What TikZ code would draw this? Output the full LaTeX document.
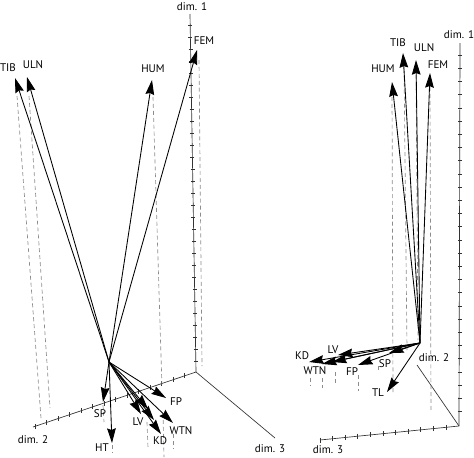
\documentclass[tikz,border=0pt]{standalone}
\usepackage{fontspec}
\setmainfont{PT Sans}
\usetikzlibrary{arrows.meta,calc}

\tikzset{
  axisline/.style={draw=black!80, line width=0.5pt},
  tickmark/.style={draw=black!80, line width=0.45pt},
  loading/.style={draw=black, line width=0.65pt, -{Stealth[length=11pt,width=6.5pt,inset=1.2pt]}},
  dropline/.style={draw=black!45, line width=0.5pt, dash pattern=on 3pt off 2.2pt},
  varlabel/.style={font=\fontsize{8.3}{10}\selectfont, inner sep=0pt},
}

\begin{document}
\begin{tikzpicture}[x=0.75pt,y=-0.75pt]
  \useasboundingbox (0,0) rectangle (474,457);

  % ---------- left plot ----------
  % Axes
  \coordinate (La1) at (190,14);
  \coordinate (Lo) at (196,372);
  \coordinate (La2) at (33,427);
  \coordinate (La3) at (275,438);
  \draw[axisline] (La1) -- (Lo);
  \draw[axisline] (Lo) -- (La2);
  \draw[axisline] (Lo) -- (La3);
  \foreach \k in {0,...,28} {
    \pgfmathsetmacro\t{0.031+0.0335*\k}
    \draw[tickmark] ($(La1)!\t!(Lo)$) ++(-2,0) -- ++(4,0);
  }
  \foreach \k in {0,...,13} {
    \pgfmathsetmacro\t{0.988-0.0707*\k}
    \draw[tickmark] ($(Lo)!\t!(La2)$) ++(0,-2.5) -- ++(0,5);
  }
  \node[varlabel] (Ld1) at (192,7) {dim. 1};
  \node[varlabel] (Ld2) at (33,440) {dim. 2};
  \node[varlabel] (Ld3) at (270,449) {dim. 3};

  % Projections to the floor
  \draw[dropline] (17,96) -- (41,418);
  \draw[dropline] (29,96) -- (50,408);
  \draw[dropline] (153,97) -- (162,388);
  \draw[dropline] (199,60) -- (202,366);
  \draw[dropline] (103,405) -- (104,422);
  \draw[dropline] (112,445) -- (112,453);
  \draw[dropline] (147,422) -- (148,448);
  \draw[dropline] (163,413) -- (164,457);
  \draw[dropline] (173,434) -- (173,448);

  % Loadings
  \coordinate (LO) at (109,362);
  \coordinate (LTIB) at (15,78);
  \coordinate (LULN) at (27,77);
  \coordinate (LHUM) at (152,80);
  \coordinate (LFEM) at (197,50);
  \coordinate (LSP) at (103,402);
  \coordinate (LHT) at (112,443);
  \coordinate (LFP) at (166,398);
  \coordinate (LLV) at (141,414);
  \coordinate (LKD) at (161,434);
  \coordinate (LWTN) at (173,423);
  \coordinate (LXa) at (148,409);
  \coordinate (LXb) at (154,420);
  \foreach \v in {TIB,ULN,HUM,FEM,SP,HT,FP,LV,KD,WTN,Xa,Xb}
    \draw[loading] (LO) -- (L\v);

  \node[varlabel] (LlTIB) at (8,68) {TIB};
  \node[varlabel] (LlULN) at (33,65) {ULN};
  \node[varlabel] (LlHUM) at (153,69) {HUM};
  \node[varlabel] (LlFEM) at (204,41) {FEM};
  \node[varlabel] (LlSP) at (100,414) {SP};
  \node[varlabel] (LlHT) at (102,448) {HT};
  \node[varlabel] (LlFP) at (176,402) {FP};
  \node[varlabel] (LlLV) at (138,422) {LV};
  \node[varlabel] (LlWTN) at (181,431) {WTN};
  \node[varlabel] (LlKD) at (160,441) {KD};

  % ---------- right plot ----------
  % Axes
  \coordinate (Ra1) at (460,43);
  \coordinate (Ro) at (459,426);
  \coordinate (Ra2) at (417,365);
  \coordinate (Ra3) at (320,440);
  \draw[axisline] (Ra1) -- (Ro);
  \draw[axisline] (Ro) -- (Ra2);
  \draw[axisline] (Ro) -- (Ra3);
  \foreach \k in {0,...,27}
    \draw[tickmark] (458,55+13.2*\k) -- (462,55+13.2*\k);
  \foreach \k in {0,...,10} {
    \pgfmathsetmacro\t{1-0.0906*\k}
    \draw[tickmark] ($(Ro)!\t!(Ra3)$) ++(0,-2.5) -- ++(0,5);
  }
  \node[varlabel] (Rd1) at (459,35) {dim. 1};
  \node[varlabel] (Rd2) at (434,358) {dim. 2};
  \node[varlabel] (Rd3) at (328,450) {dim. 3};

  % Projections to the floor
  \draw[dropline] (392,90) -- (393,393);
  \draw[dropline] (404,62) -- (407,350);
  \draw[dropline] (416,68) -- (418,340);
  \draw[dropline] (430,80) -- (431,412);
  \draw[dropline] (310,378) -- (310,386);
  \draw[dropline] (322,378) -- (322,388);
  \draw[dropline] (335,372) -- (335,383);
  \draw[dropline] (358,375) -- (358,391);
  \draw[dropline] (378,366) -- (378,371);

  % Loadings
  \coordinate (RO) at (420,343);
  \coordinate (RHUM) at (392,82);
  \coordinate (RTIB) at (403,53);
  \coordinate (RULN) at (416,60);
  \coordinate (RFEM) at (430,73);
  \coordinate (RKD) at (309,362);
  \coordinate (RLV) at (338,355);
  \coordinate (RWTN) at (322,364);
  \coordinate (RXa) at (332,362);
  \coordinate (RFP) at (358,365);
  \coordinate (RSP) at (389,353);
  \coordinate (RTL) at (387,392);
  \foreach \v in {HUM,TIB,ULN,FEM,KD,LV,WTN,Xa,FP,SP,TL}
    \draw[loading] (RO) -- (R\v);

  \node[varlabel] (RlHUM) at (383,69) {HUM};
  \node[varlabel] (RlTIB) at (398,43) {TIB};
  \node[varlabel] (RlULN) at (424,48) {ULN};
  \node[varlabel] (RlFEM) at (438,65) {FEM};
  \node[varlabel] (RlKD) at (302,356) {KD};
  \node[varlabel] (RlLV) at (333,350) {LV};
  \node[varlabel] (RlWTN) at (315,371) {WTN};
  \node[varlabel] (RlFP) at (352,372) {FP};
  \node[varlabel] (RlSP) at (385,364) {SP};
  \node[varlabel] (RlTL) at (378,393) {TL};
\end{tikzpicture}
\end{document}
